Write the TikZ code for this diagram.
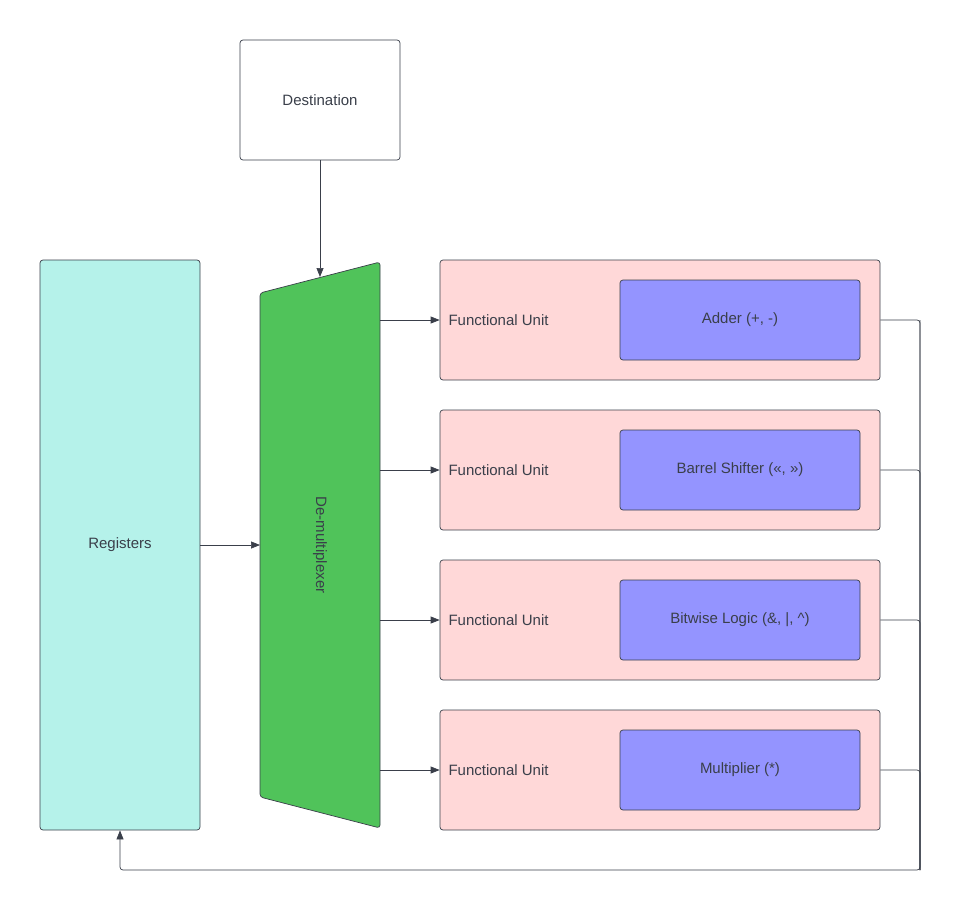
\documentclass[tikz,border=0pt]{standalone}
\usepackage{fontspec}
\setmainfont{Liberation Sans}
\usetikzlibrary{arrows.meta}
\definecolor{reg}{HTML}{B5F2EA}
\definecolor{dmx}{HTML}{50C35A}
\definecolor{fu}{HTML}{FFD8D8}
\definecolor{inr}{HTML}{9494FF}
\definecolor{ln}{HTML}{3A3F4A}
\begin{document}
\begin{tikzpicture}[x=1pt,y=-1pt,
  font=\fontsize{15}{18}\selectfont, text=ln,
  box/.style={draw=ln,rounded corners=3pt,line width=0.7pt},
  arr/.style={draw=ln,line width=0.7pt,-{Triangle[length=9pt,width=7pt]}},
  ln/.style={draw=ln,line width=0.7pt,rounded corners=3pt}]
\useasboundingbox (0,0) rectangle (961,911);
\node[box,fill=white,minimum width=160pt,minimum height=120pt] (dest) at (320,100) {Destination};
\node[box,fill=reg,minimum width=160pt,minimum height=570pt] (reg) at (120,545) {Registers};
\draw[box,fill=dmx] (260,293) -- (380,262) -- (380,828) -- (260,797) -- cycle;
\coordinate (dtop) at (320,277);
\coordinate (dleft) at (260,545);
\node[rotate=-90] (dmxl) at (320,545) {De-multiplexer};
\draw[arr] (dest.south) -- (dtop);
\draw[arr] (reg.east |- dleft) -- (dleft);
\foreach \i/\y/\t in {1/320/{Adder (+, -)},2/470/{Barrel Shifter (<<, >>)},3/620/{Bitwise Logic (\&, |, \textasciicircum)},4/770/{Multiplier (*)}}{
  \node[box,fill=fu,minimum width=440pt,minimum height=120pt] (fu\i) at (660,\y) {};
  \node[anchor=west] (ful\i) at (445,\y) {Functional Unit};
  \node[box,fill=inr,minimum width=240pt,minimum height=80pt] (in\i) at (740,\y) {\t};
  \coordinate (ds\i) at (380,\y);
  \draw[arr] (ds\i) -- (fu\i.west);
  \coordinate (c\i) at (920,\y);
  \draw[ln] (fu\i.east) -- (c\i) -- (920,870);
}
\coordinate (corner) at (920,870);
\draw[arr,rounded corners=3pt] (c1) -- (corner) -- (120,870) -- (reg.south);
\end{tikzpicture}
\end{document}
